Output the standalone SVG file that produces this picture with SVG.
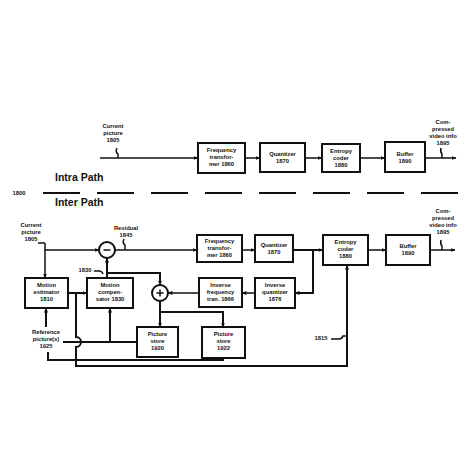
<svg xmlns="http://www.w3.org/2000/svg" width="474" height="474" viewBox="0 0 474 474">
<defs>
<marker id="ah" viewBox="0 0 10 10" refX="9" refY="5" markerWidth="5" markerHeight="5" orient="auto" markerUnits="userSpaceOnUse">
<path d="M0,1 L10,5 L0,9 z" fill="#111"/>
</marker>
</defs>
<style>
.box{fill:#fff;stroke:#111;stroke-width:2}
.t{font-family:"Liberation Sans",Arial,sans-serif;font-weight:bold;font-size:5.8px;fill:#111;text-anchor:middle}
.h{font-family:"Liberation Sans",Arial,sans-serif;font-weight:bold;font-size:10.5px;fill:#111}
.ln{fill:none;stroke:#111;stroke-width:1.5}
.thk{fill:none;stroke:#111;stroke-width:2}
.dash{fill:none;stroke:#111;stroke-width:1.8;stroke-dasharray:37 17}
</style>
<rect width="474" height="474" fill="#fff"/>

<!-- headings / separator -->
<text class="h" x="55" y="181">Intra Path</text>
<text class="h" x="55" y="206">Inter Path</text>
<text class="t" x="19" y="195" font-size="5">1800</text>
<line class="dash" x1="43" y1="193" x2="460" y2="193"/>

<!-- Intra path nodes -->
<g id="intra-freq"><rect class="box" x="198" y="143" width="47" height="30"/>
<text class="t" x="221.5" y="152">Frequency</text><text class="t" x="221.5" y="159">transfor-</text><text class="t" x="221.5" y="166">mer 1860</text></g>
<g id="intra-quant"><rect class="box" x="260" y="143" width="45" height="29"/>
<text class="t" x="282.5" y="156">Quantizer</text><text class="t" x="282.5" y="163">1870</text></g>
<g id="intra-entropy"><rect class="box" x="322" y="144" width="38" height="28"/>
<text class="t" x="341" y="153">Entropy</text><text class="t" x="341" y="160">coder</text><text class="t" x="341" y="167">1880</text></g>
<g id="intra-buffer"><rect class="box" x="385" y="142" width="40" height="30"/>
<text class="t" x="405" y="156">Buffer</text><text class="t" x="405" y="163">1890</text></g>
<g id="intra-labels">
<text class="t" x="113" y="128">Current</text><text class="t" x="113" y="135">picture</text><text class="t" x="113" y="142">1805</text>
<text class="t" x="443" y="124">Com-</text><text class="t" x="443" y="131">pressed</text><text class="t" x="443" y="138">video info</text><text class="t" x="443" y="145">1895</text>
</g>

<!-- Inter path nodes -->
<g id="sub"><circle class="thk" cx="107" cy="250" r="8" fill="#fff"/><line x1="103.5" y1="250" x2="110.5" y2="250" stroke="#111" stroke-width="1.5"/></g>
<g id="add"><circle class="thk" cx="160" cy="293" r="8" fill="#fff"/><line x1="156.5" y1="293" x2="163.5" y2="293" stroke="#111" stroke-width="1.5"/><line x1="160" y1="289.5" x2="160" y2="296.5" stroke="#111" stroke-width="1.5"/></g>
<g id="inter-freq"><rect class="box" x="197" y="235" width="45" height="27"/>
<text class="t" x="219.5" y="243">Frequency</text><text class="t" x="219.5" y="250">transfor-</text><text class="t" x="219.5" y="257">mer 1860</text></g>
<g id="inter-quant"><rect class="box" x="255" y="235" width="38" height="27"/>
<text class="t" x="274" y="247">Quantizer</text><text class="t" x="274" y="254">1870</text></g>
<g id="inter-entropy"><rect class="box" x="323" y="235" width="45" height="30"/>
<text class="t" x="345.5" y="244">Entropy</text><text class="t" x="345.5" y="251">coder</text><text class="t" x="345.5" y="258">1880</text></g>
<g id="inter-buffer"><rect class="box" x="386" y="235" width="44" height="30"/>
<text class="t" x="408" y="248">Buffer</text><text class="t" x="408" y="255">1890</text></g>
<g id="inv-quant"><rect class="box" x="255" y="278" width="40" height="30"/>
<text class="t" x="275" y="287">Inverse</text><text class="t" x="275" y="294">quantizer</text><text class="t" x="275" y="301">1876</text></g>
<g id="inv-freq"><rect class="box" x="199" y="278" width="43" height="29"/>
<text class="t" x="220.5" y="287">Inverse</text><text class="t" x="220.5" y="294">frequency</text><text class="t" x="220.5" y="301">tran. 1866</text></g>
<g id="motion-est"><rect class="box" x="25" y="278" width="43" height="30"/>
<text class="t" x="46.5" y="287">Motion</text><text class="t" x="46.5" y="294">estimator</text><text class="t" x="46.5" y="301">1810</text></g>
<g id="motion-comp"><rect class="box" x="87" y="278" width="46" height="30"/>
<text class="t" x="110" y="287">Motion</text><text class="t" x="110" y="294">compen-</text><text class="t" x="110" y="301">sator 1830</text></g>
<g id="store-1920"><rect class="box" x="137" y="327" width="41" height="30"/>
<text class="t" x="157.5" y="336">Picture</text><text class="t" x="157.5" y="343">store</text><text class="t" x="157.5" y="350">1920</text></g>
<g id="store-1922"><rect class="box" x="202" y="327" width="43" height="31"/>
<text class="t" x="223.5" y="336">Picture</text><text class="t" x="223.5" y="343">store</text><text class="t" x="223.5" y="350">1922</text></g>
<g id="inter-labels">
<text class="t" x="31" y="227">Current</text><text class="t" x="31" y="234">picture</text><text class="t" x="31" y="241">1805</text>
<text class="t" x="126" y="230">Residual</text><text class="t" x="126" y="237">1845</text>
<text class="t" x="85" y="272">1830</text>
<text class="t" x="443" y="213">Com-</text><text class="t" x="443" y="220">pressed</text><text class="t" x="443" y="227">video info</text><text class="t" x="443" y="234">1895</text>
<text class="t" x="46" y="334">Reference</text><text class="t" x="46" y="341">picture(s)</text><text class="t" x="46" y="348">1925</text>
<text class="t" x="321" y="340">1815</text>
</g>

<!-- connectors -->
<g id="connectors">
<!-- intra -->
<line class="ln" x1="100" y1="158" x2="198" y2="158" marker-end="url(#ah)"/>
<path class="ln" d="M117,148 q-2,4 1,6 v4"/>
<line class="ln" x1="245" y1="158" x2="260" y2="158" marker-end="url(#ah)"/>
<line class="ln" x1="305" y1="158" x2="322" y2="158" marker-end="url(#ah)"/>
<line class="ln" x1="360" y1="158" x2="385" y2="158" marker-end="url(#ah)"/>
<line class="ln" x1="425" y1="158" x2="456" y2="158" marker-end="url(#ah)"/>
<path class="ln" d="M441,148 q-1,4 1,6 v4"/>
<!-- inter -->
<path class="ln" d="M38,243 h7"/>
<line class="ln" x1="45" y1="250" x2="99" y2="250" marker-end="url(#ah)"/>
<line class="ln" x1="45" y1="243" x2="45" y2="278" marker-end="url(#ah)"/>
<path class="ln" d="M124,239 q-2,4 1,6 v5"/>
<line class="ln" x1="115" y1="250" x2="197" y2="250" marker-end="url(#ah)"/>
<line class="ln" x1="242" y1="250" x2="255" y2="250" marker-end="url(#ah)"/>
<path class="thk" d="M293,250 H323" marker-end="url(#ah)"/>
<path class="thk" d="M313,250 V293 H295" marker-end="url(#ah)"/>
<line class="ln" x1="368" y1="250" x2="386" y2="250" marker-end="url(#ah)"/>
<line class="ln" x1="430" y1="250" x2="455" y2="250" marker-end="url(#ah)"/>
<path class="ln" d="M441,240 q-1,4 1,6 v4"/>
<line class="ln" x1="255" y1="293" x2="242" y2="293" marker-end="url(#ah)"/>
<line class="ln" x1="199" y1="293" x2="168" y2="293" marker-end="url(#ah)"/>
<!-- motion compensator output -->
<line class="thk" x1="107" y1="278" x2="107" y2="258" marker-end="url(#ah)"/>
<path class="thk" d="M107,273 H160 V285" marker-end="url(#ah)"/>
<path class="ln" d="M94,271 h5 q3,0 4,3"/>
<!-- motion estimator output -->
<line class="thk" x1="68" y1="293" x2="87" y2="293" marker-end="url(#ah)"/>
<path class="thk" d="M76,293 V337 a5,5 0 0 1 0,10 V366 H347 V265" marker-end="url(#ah)"/>
<path class="ln" d="M331,339 h8 q3,0 4,-3 h4"/>
<!-- adder output to stores -->
<line class="thk" x1="160" y1="301" x2="160" y2="327" marker-end="url(#ah)"/>
<path class="thk" d="M160,312 H223 V327" marker-end="url(#ah)"/>
<!-- reference pictures -->
<path class="thk" d="M63,342 H137"/>
<line class="thk" x1="110" y1="342" x2="110" y2="308" marker-end="url(#ah)"/>
<line class="thk" x1="46" y1="327" x2="46" y2="308" marker-end="url(#ah)"/>
<path class="thk" d="M48,352 V360 H223 V358"/>
</g>
</svg>
